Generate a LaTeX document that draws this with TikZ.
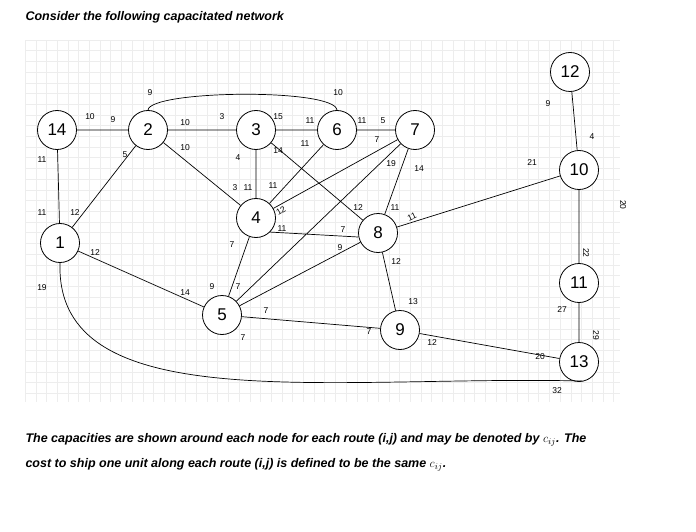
\documentclass[tikz,border=0pt]{standalone}
\usepackage{fontspec}
\setmainfont{Liberation Sans}
\begin{document}
\begin{tikzpicture}[x=1pt,y=-1pt,
  nd/.style={circle,draw,line width=0.8pt,fill=white,minimum size=39pt,inner sep=0pt,font=\fontsize{17}{17}\selectfont},
  lb/.style={font=\fontsize{8.5}{9}\selectfont,inner sep=0pt},
  ed/.style={draw,line width=0.7pt},
  txt/.style={anchor=west,font=\bfseries\itshape\fontsize{12.5}{14}\selectfont}]
\useasboundingbox (0,0) rectangle (696,532);
\foreach \i in {0,...,55} \draw[black!7] (25+10.7*\i,40) -- (25+10.7*\i,402);
\foreach \j in {0,...,33} \draw[black!7] (25,40+10.7*\j) -- (620,40+10.7*\j);
\node[txt] (title) at (22,17) {Consider the following capacitated network};
\node[nd] (n14) at (57,130) {14};
\node[nd] (n2) at (148,130) {2};
\node[nd] (n3) at (256,130) {3};
\node[nd] (n6) at (337,130) {6};
\node[nd] (n7) at (415,130) {7};
\node[nd] (n12) at (570,72) {12};
\node[nd] (n10) at (579,170) {10};
\node[nd] (n4) at (256,218) {4};
\node[nd] (n8) at (378,233) {8};
\node[nd] (n1) at (60,243) {1};
\node[nd] (n11) at (579,283) {11};
\node[nd] (n5) at (222,315) {5};
\node[nd] (n9) at (400,330) {9};
\node[nd] (n13) at (579,362) {13};
\coordinate (e48) at (358,237);
\coordinate (e413) at (582,381);
\path[ed] (n14)--(n2) (n14)--(n1) (n2)--(n3) (n2)--(n4) (n2)--(n1)
 (n3)--(n6) (n3)--(n4) (n3)--(n8) (n6)--(n7) (n6)--(n4) (n7)--(n4) (n7)--(n5) (n7)--(n8)
 (n4.south east)--(e48) (n4)--(n5) (n5)--(n8) (n5)--(n9) (n8)--(n9) (n8)--(n10) (n10)--(n12) (n10)--(n11) (n11)--(n13)
 (n1)--(n5) (n9)--(n13);
\path[ed] (n2.north) .. controls (150,90) and (335,88) .. (n6.north);
\path[ed] (n1.south) .. controls (55,420) and (330,375) .. (e413);
\foreach \t/\x/\y in {9/150/93,10/338/93,10/90/117,9/113/120,10/185/123,3/222/117,15/278/117,11/310/121,11/362/121,5/383/121,7/377/140,
11/42/160,5/125/155,10/185/148,4/238/158,14/278/151,11/305/144,19/391/164,14/419/169,21/532/163,9/548/104,4/592/137,
3/235/188,11/248/188,11/273/186,12/358/208,11/395/208,11/282/229,7/343/230,9/340/248,11/42/213,12/75/213,12/95/253,7/232/245,12/396/262,
19/42/288,14/185/293,9/212/287,7/238/287,7/266/311,13/413/302,27/562/310,7/243/338,7/369/332,12/432/343,20/540/357,32/557/391}
  \node[lb] at (\x,\y) {\t};
\node[lb,rotate=30] at (281,211) {12};
\node[lb,rotate=25] at (412,217) {11};
\node[lb,rotate=-90] at (623,205) {20};
\node[lb,rotate=-90] at (586,253) {22};
\node[lb,rotate=-90] at (596,335) {29};
\node[txt] (foot1) at (22,440) {The capacities are shown around each node for each route (i,j) and may be denoted by $c_{ij}$. The};
\node[txt] (foot2) at (22,465) {cost to ship one unit along each route (i,j) is defined to be the same $c_{ij}$.};
\end{tikzpicture}
\end{document}
